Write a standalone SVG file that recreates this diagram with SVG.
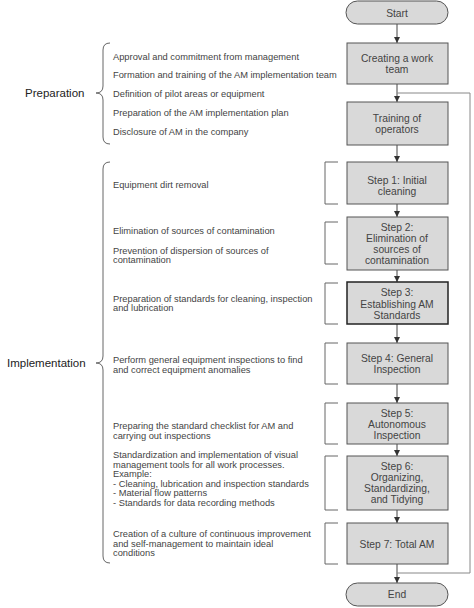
<svg xmlns="http://www.w3.org/2000/svg" width="474" height="608" viewBox="0 0 474 608">
<style>
.bg{fill:#ffffff}
.box{fill:#d9d9d9;stroke:#555555;stroke-width:1}
.box3{fill:#d9d9d9;stroke:#222222;stroke-width:1.5}
.bt{font-family:"Liberation Sans",Arial,sans-serif;font-size:10.3px;fill:#444444;text-anchor:middle}
.lt{font-family:"Liberation Sans",Arial,sans-serif;font-size:9.3px;fill:#444444}
.hd{font-family:"Liberation Sans",Arial,sans-serif;font-size:11.5px;fill:#222222}
.arr{stroke:#444444;stroke-width:1;fill:none}
.loop{stroke:#888888;stroke-width:1;fill:none}
.brk{stroke:#666666;stroke-width:1;fill:none}
.brace{stroke:#666666;stroke-width:1;fill:none}
</style>
<defs>
<marker id="ah" viewBox="0 0 6 6" refX="6" refY="3" markerWidth="6" markerHeight="6" markerUnits="userSpaceOnUse" orient="auto">
<path d="M0,0 L6,3 L0,6 z" fill="#333333"/>
</marker>
</defs>
<rect class="bg" x="0" y="0" width="474" height="608"/>

<g id="connectors">
<line class="arr" x1="397" y1="24" x2="397" y2="43" marker-end="url(#ah)"/>
<line class="arr" x1="397" y1="84" x2="397" y2="102" marker-end="url(#ah)"/>
<line class="arr" x1="397" y1="145" x2="397" y2="162" marker-end="url(#ah)"/>
<line class="arr" x1="397" y1="204" x2="397" y2="217" marker-end="url(#ah)"/>
<line class="arr" x1="397" y1="270" x2="397" y2="282" marker-end="url(#ah)"/>
<line class="arr" x1="397" y1="324" x2="397" y2="343" marker-end="url(#ah)"/>
<line class="arr" x1="397" y1="384" x2="397" y2="403" marker-end="url(#ah)"/>
<line class="arr" x1="397" y1="444" x2="397" y2="456" marker-end="url(#ah)"/>
<line class="arr" x1="397" y1="510" x2="397" y2="523" marker-end="url(#ah)"/>
<line class="arr" x1="397" y1="564" x2="397" y2="583" marker-end="url(#ah)"/>
<polyline class="loop" points="397,93 470,93 470,573 397,573"/>
</g>

<g id="start">
<rect class="box" x="346" y="1" width="102" height="23" rx="11.5" ry="11.5"/>
<text class="bt" x="397" y="16.5">Start</text>
</g>
<g id="creating-team">
<rect class="box" x="347" y="43" width="101" height="41"/>
<text class="bt" x="397" y="62">Creating a work</text>
<text class="bt" x="397" y="73">team</text>
</g>
<g id="training">
<rect class="box" x="347" y="102" width="101" height="43"/>
<text class="bt" x="397" y="122">Training of</text>
<text class="bt" x="397" y="133">operators</text>
</g>
<g id="step1">
<rect class="box" x="347" y="162" width="101" height="42"/>
<text class="bt" x="397" y="184">Step 1: Initial</text>
<text class="bt" x="397" y="195">cleaning</text>
</g>
<g id="step2">
<rect class="box" x="347" y="217" width="101" height="53"/>
<text class="bt" x="397" y="231">Step 2:</text>
<text class="bt" x="397" y="242">Elimination of</text>
<text class="bt" x="397" y="253">sources of</text>
<text class="bt" x="397" y="264">contamination</text>
</g>
<g id="step3">
<rect class="box3" x="347" y="282" width="101" height="42"/>
<text class="bt" x="397" y="296">Step 3:</text>
<text class="bt" x="397" y="307.5">Establishing AM</text>
<text class="bt" x="397" y="319">Standards</text>
</g>
<g id="step4">
<rect class="box" x="347" y="343" width="101" height="41"/>
<text class="bt" x="397" y="362">Step 4: General</text>
<text class="bt" x="397" y="373">Inspection</text>
</g>
<g id="step5">
<rect class="box" x="347" y="403" width="101" height="41"/>
<text class="bt" x="397" y="416.5">Step 5:</text>
<text class="bt" x="397" y="427.5">Autonomous</text>
<text class="bt" x="397" y="438.5">Inspection</text>
</g>
<g id="step6">
<rect class="box" x="347" y="456" width="101" height="54"/>
<text class="bt" x="397" y="470">Step 6:</text>
<text class="bt" x="397" y="481">Organizing,</text>
<text class="bt" x="397" y="492">Standardizing,</text>
<text class="bt" x="397" y="503">and Tidying</text>
</g>
<g id="step7">
<rect class="box" x="347" y="523" width="101" height="41"/>
<text class="bt" x="397" y="548">Step 7: Total AM</text>
</g>
<g id="end">
<rect class="box" x="346" y="583" width="102" height="23" rx="11.5" ry="11.5"/>
<text class="bt" x="397" y="598">End</text>
</g>

<g id="brackets">
<polyline class="brk" points="338,162 325,162 325,204 338,204"/>
<polyline class="brk" points="338,222 325,222 325,264 338,264"/>
<polyline class="brk" points="338,283 325,283 325,324 338,324"/>
<polyline class="brk" points="338,343 325,343 325,384 338,384"/>
<polyline class="brk" points="338,403 325,403 325,444 338,444"/>
<polyline class="brk" points="338,456 325,456 325,510 338,510"/>
<polyline class="brk" points="338,523 325,523 325,564 338,564"/>
</g>

<g id="preparation">
<path class="brace" d="M110,43 Q103,43 103,50 L103,86 Q103,93 96,93 Q103,93 103,100 L103,137 Q103,144 110,144"/>
<text class="hd" x="25" y="97">Preparation</text>
<text class="lt" x="113" y="60">Approval and commitment from management</text>
<text class="lt" x="113" y="78">Formation and training of the AM implementation team</text>
<text class="lt" x="113" y="97">Definition of pilot areas or equipment</text>
<text class="lt" x="113" y="116">Preparation of the AM implementation plan</text>
<text class="lt" x="113" y="135">Disclosure of AM in the company</text>
</g>

<g id="implementation">
<path class="brace" d="M110,162 Q103,162 103,169 L103,356 Q103,363 96,363 Q103,363 103,370 L103,556 Q103,563 110,563"/>
<text class="hd" x="7" y="367">Implementation</text>
<text class="lt" x="113" y="188">Equipment dirt removal</text>
<text class="lt" x="113" y="234">Elimination of sources of contamination</text>
<text class="lt" x="113" y="254">Prevention of dispersion of sources of</text>
<text class="lt" x="113" y="263">contamination</text>
<text class="lt" x="113" y="302">Preparation of standards for cleaning, inspection</text>
<text class="lt" x="113" y="311">and lubrication</text>
<text class="lt" x="113" y="363">Perform general equipment inspections to find</text>
<text class="lt" x="113" y="373">and correct equipment anomalies</text>
<text class="lt" x="113" y="429">Preparing the standard checklist for AM and</text>
<text class="lt" x="113" y="439">carrying out inspections</text>
<text class="lt" x="113" y="458">Standardization and implementation of visual</text>
<text class="lt" x="113" y="468">management tools for all work processes.</text>
<text class="lt" x="113" y="477">Example:</text>
<text class="lt" x="113" y="487">- Cleaning, lubrication and inspection standards</text>
<text class="lt" x="113" y="496">- Material flow patterns</text>
<text class="lt" x="113" y="506">- Standards for data recording methods</text>
<text class="lt" x="113" y="537">Creation of a culture of continuous improvement</text>
<text class="lt" x="113" y="547">and self-management to maintain ideal</text>
<text class="lt" x="113" y="556">conditions</text>
</g>
</svg>
